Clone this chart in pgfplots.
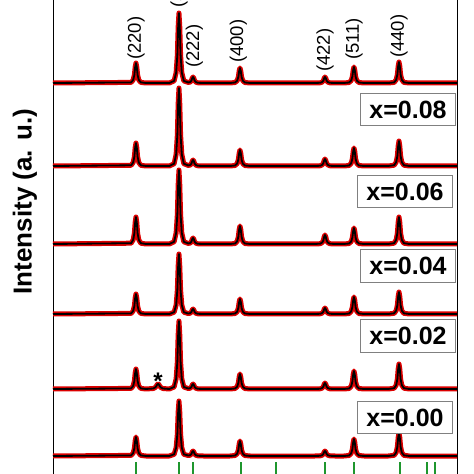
\documentclass[border=0pt]{standalone}
\usepackage{fontspec}
\setmainfont{Liberation Sans}
\usepackage{pgfplots}
\pgfplotsset{compat=1.18}
\usepackage{pgfplotstable}

% columns a..f : patterns from top (x=0.10) to bottom (x=0.00), intensity (a.u.)
\pgfplotstableread{
x a b c d e f
20 0 0 0 0 0 0
29.67 0.6 0.7 0.8 0.6 0.6 0.6
29.92 3 3.5 4.1 3 3 2.9
30.07 8 9.2 10.8 8 8 7.6
30.17 16 18.4 21.6 16 16 15.2
30.27 20 23 27 20 20 19
30.37 16 18.4 21.6 16 16 15.2
30.47 8 9.2 10.8 8 8 7.6
30.62 3 3.5 4.1 3 3 2.9
30.87 0.6 0.7 0.8 0.6 0.6 0.6
31.5 0 0 0 0 0 0
32.4 0 0 0 0 0.5 0
32.65 0 0 0 0 1.5 0
32.8 0 0 0 0 3 0
32.9 0 0 0 0 4.5 0
33.0 0 0 0 0 5 0
33.1 0 0 0 0 4.5 0
33.2 0 0 0 0 3 0
33.35 0 0 0 0 1.5 0
33.6 0 0 0 0 0.5 0
34.4 0 0 0 0 0 0
34.99 2.1 2.3 2.2 1.8 2 1.7
35.24 10.5 11.7 11.1 9 10.2 8.3
35.39 28 31.2 29.6 24 27.2 22
35.49 56 62.4 59.2 48 54.4 44
35.59 70 78 74 60 68 55
35.69 56 62.4 59.2 48 54.4 44
35.79 28 31.2 29.6 24 27.2 22
35.94 10.5 11.7 11.1 9 10.2 8.3
36.19 2.1 2.3 2.2 1.8 2 1.7
36.73 0.6 0.6 0.6 0.5 0.5 0.5
36.98 0.9 0.9 0.9 0.8 0.8 0.8
37.13 2.4 2.4 2.4 2 2 2
37.23 4.8 4.8 4.8 4 4 4
37.33 6 6 6 5 5 5
37.43 4.8 4.8 4.8 4 4 4
37.53 2.4 2.4 2.4 2 2 2
37.68 0.9 0.9 0.9 0.8 0.8 0.8
37.93 0.2 0.2 0.2 0.2 0.2 0.2
38.6 0 0 0 0 0 0
41.9 0 0 0 0 0 0
42.54 0.5 0.5 0.5 0.5 0.5 0.5
42.79 2.3 2.4 2.7 2.3 2.3 2.3
42.94 6 6.4 7.2 6 6 6
43.04 12 12.8 14.4 12 12 12
43.14 15 16 18 15 15 15
43.24 12 12.8 14.4 12 12 12
43.34 6 6.4 7.2 6 6 6
43.49 2.3 2.4 2.7 2.3 2.3 2.3
43.74 0.5 0.5 0.5 0.5 0.5 0.5
44.4 0 0 0 0 0 0
52.4 0 0 0 0 0 0
53.06 0.2 0.2 0.3 0.2 0.2 0.2
53.31 0.9 1.1 1.4 0.9 0.9 0.8
53.46 2.4 2.8 3.6 2.4 2.4 2
53.56 4.8 5.6 7.2 4.8 4.8 4
53.66 6 7 9 6 6 5
53.76 4.8 5.6 7.2 4.8 4.8 4
53.86 2.4 2.8 3.6 2.4 2.4 2
54.01 0.9 1.1 1.4 0.9 0.9 0.8
54.26 0.2 0.2 0.3 0.2 0.2 0.2
54.9 0 0 0 0 0 0
56.0 0 0 0 0 0 0
56.65 0.5 0.5 0.5 0.5 0.5 0.5
56.90 2.4 2.7 2.4 2.6 2.7 2.6
57.05 6.4 7.2 6.4 6.8 7.2 6.8
57.15 12.8 14.4 12.8 13.6 14.4 13.6
57.25 16 18 16 17 18 17
57.35 12.8 14.4 12.8 13.6 14.4 13.6
57.45 6.4 7.2 6.4 6.8 7.2 6.8
57.60 2.4 2.7 2.4 2.6 2.7 2.6
57.85 0.5 0.5 0.5 0.5 0.5 0.5
58.5 0 0 0 0 0 0
61.5 0 0 0 0 0 0
62.22 0.6 0.8 0.8 0.7 0.8 0.7
62.47 3.2 3.8 4.1 3.3 3.8 3.5
62.62 8.4 10 10.8 8.8 10 9.2
62.72 16.8 20 21.6 17.6 20 18.4
62.82 21 25 27 22 25 23
62.92 16.8 20 21.6 17.6 20 18.4
63.02 8.4 10 10.8 8.8 10 9.2
63.17 3.2 3.8 4.1 3.3 3.8 3.5
63.42 0.6 0.8 0.8 0.7 0.8 0.7
64.1 0 0 0 0 0 0
70 0 0 0 0 0 0
}\xrd

% Bragg positions
\pgfplotstableread{
x y
30.27 12
30.27 -5
30.27 nan
35.59 12
35.59 -5
35.59 nan
37.33 12
37.33 -5
37.33 nan
43.27 12
43.27 -5
43.27 nan
47.6 12
47.6 -5
47.6 nan
53.66 12
53.66 -5
53.66 nan
57.25 12
57.25 -5
57.25 nan
62.95 12
62.95 -5
62.95 nan
66.29 12
66.29 -5
66.29 nan
67.28 12
67.28 -5
}\bragg

\definecolor{braggreen}{RGB}{30,150,45}
\definecolor{fitred}{RGB}{220,0,0}

\begin{document}
\begin{tikzpicture}
\useasboundingbox (0pt,0pt) rectangle (474pt,474pt);
\clip (0pt,0pt) rectangle (474pt,474pt);
\begin{axis}[
  at={(53pt,-16pt)}, anchor=south west,
  scale only axis, width=404pt, height=520pt,
  xmin=20, xmax=70, ymin=-16, ymax=504,
  xtick=\empty, ytick=\empty,
  axis line style={line width=0.9pt},
  clip=false,
  unbounded coords=jump,
  ylabel={\bfseries Intensity (a. u.)},
  ylabel style={at={(rel axis cs:-0.0693,0.5548)}, anchor=center, font=\fontsize{26}{26}\selectfont},
]
\addplot[fitred, line width=5pt, line join=round] table[x=x, y expr=\thisrow{a}+391] {\xrd};
\addplot[black, line width=1.8pt, line join=round] table[x=x, y expr=\thisrow{a}+391] {\xrd};
\addplot[fitred, line width=5pt, line join=round] table[x=x, y expr=\thisrow{b}+308] {\xrd};
\addplot[black, line width=1.8pt, line join=round] table[x=x, y expr=\thisrow{b}+308] {\xrd};
\addplot[fitred, line width=5pt, line join=round] table[x=x, y expr=\thisrow{c}+230] {\xrd};
\addplot[black, line width=1.8pt, line join=round] table[x=x, y expr=\thisrow{c}+230] {\xrd};
\addplot[fitred, line width=5pt, line join=round] table[x=x, y expr=\thisrow{d}+160] {\xrd};
\addplot[black, line width=1.8pt, line join=round] table[x=x, y expr=\thisrow{d}+160] {\xrd};
\addplot[fitred, line width=5pt, line join=round] table[x=x, y expr=\thisrow{e}+85] {\xrd};
\addplot[black, line width=1.8pt, line join=round] table[x=x, y expr=\thisrow{e}+85] {\xrd};
\addplot[fitred, line width=5pt, line join=round] table[x=x, y expr=\thisrow{f}+18] {\xrd};
\addplot[black, line width=1.8pt, line join=round] table[x=x, y expr=\thisrow{f}+18] {\xrd};

\addplot[braggreen, line width=2.5pt] table[x=x, y=y] {\bragg};

% peak labels
\begin{scope}[every node/.style={rotate=90, anchor=west, inner sep=0pt, font=\fontsize{18.5}{18.5}\selectfont}]
\node at (axis cs:30.27,414) {(220)};
\node at (axis cs:35.59,466) {(311)};
\node at (axis cs:37.50,406) {(222)};
\node at (axis cs:42.95,411) {(400)};
\node at (axis cs:53.66,402) {(422)};
\node at (axis cs:57.25,414) {(511)};
\node at (axis cs:62.82,416) {(440)};
\end{scope}

\node[anchor=base, inner sep=0pt, font=\bfseries\fontsize{24}{24}\selectfont] at (axis cs:33.0,84) {*};

% composition boxes
\begin{scope}[every node/.style={draw=gray, fill=white, line width=0.8pt, inner xsep=9pt, inner ysep=7.5pt, anchor=east, font=\bfseries\fontsize{25}{25}\selectfont}]
\node at (axis cs:69.88,364.5) {x=0.08};
\node at (axis cs:69.50,282.5) {x=0.06};
\node at (axis cs:69.88,208) {x=0.04};
\node at (axis cs:69.88,138) {x=0.02};
\node at (axis cs:69.50,56.5) {x=0.00};
\end{scope}
\end{axis}
\end{tikzpicture}
\end{document}
